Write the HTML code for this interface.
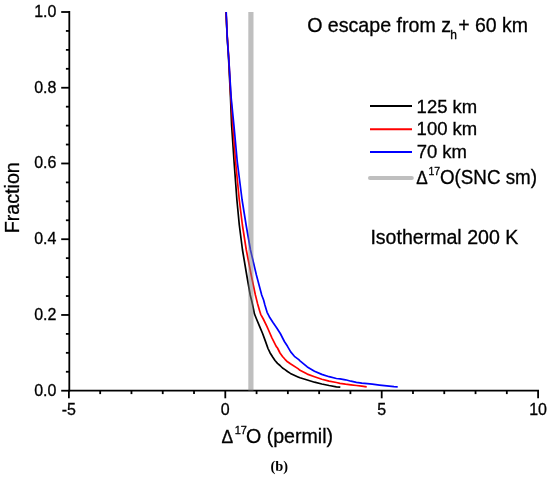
<!DOCTYPE html>
<html><head><meta charset="utf-8"><style>
html,body{margin:0;padding:0;background:#fff;}
svg{display:block;}
.s{font-family:"Liberation Sans",Arial,sans-serif;fill:#000;stroke:#000;stroke-width:0.3px;}
.cap{font-family:"Liberation Serif","Times New Roman",serif;font-weight:bold;fill:#000;}
</style></head><body>
<svg width="550" height="479" viewBox="0 0 550 479">
<line x1="69.3" y1="11.1" x2="69.3" y2="391.6" stroke="#000" stroke-width="1.8"/>
<line x1="68.4" y1="390.7" x2="539.0" y2="390.7" stroke="#000" stroke-width="1.8"/>
<line x1="61.2" y1="390.70" x2="69.3" y2="390.70" stroke="#000" stroke-width="1.8"/>
<line x1="65.9" y1="371.76" x2="69.3" y2="371.76" stroke="#000" stroke-width="1.8"/>
<line x1="65.9" y1="352.83" x2="69.3" y2="352.83" stroke="#000" stroke-width="1.8"/>
<line x1="65.9" y1="333.89" x2="69.3" y2="333.89" stroke="#000" stroke-width="1.8"/>
<line x1="61.2" y1="314.96" x2="69.3" y2="314.96" stroke="#000" stroke-width="1.8"/>
<line x1="65.9" y1="296.02" x2="69.3" y2="296.02" stroke="#000" stroke-width="1.8"/>
<line x1="65.9" y1="277.09" x2="69.3" y2="277.09" stroke="#000" stroke-width="1.8"/>
<line x1="65.9" y1="258.15" x2="69.3" y2="258.15" stroke="#000" stroke-width="1.8"/>
<line x1="61.2" y1="239.22" x2="69.3" y2="239.22" stroke="#000" stroke-width="1.8"/>
<line x1="65.9" y1="220.28" x2="69.3" y2="220.28" stroke="#000" stroke-width="1.8"/>
<line x1="65.9" y1="201.35" x2="69.3" y2="201.35" stroke="#000" stroke-width="1.8"/>
<line x1="65.9" y1="182.41" x2="69.3" y2="182.41" stroke="#000" stroke-width="1.8"/>
<line x1="61.2" y1="163.48" x2="69.3" y2="163.48" stroke="#000" stroke-width="1.8"/>
<line x1="65.9" y1="144.54" x2="69.3" y2="144.54" stroke="#000" stroke-width="1.8"/>
<line x1="65.9" y1="125.61" x2="69.3" y2="125.61" stroke="#000" stroke-width="1.8"/>
<line x1="65.9" y1="106.68" x2="69.3" y2="106.68" stroke="#000" stroke-width="1.8"/>
<line x1="61.2" y1="87.74" x2="69.3" y2="87.74" stroke="#000" stroke-width="1.8"/>
<line x1="65.9" y1="68.80" x2="69.3" y2="68.80" stroke="#000" stroke-width="1.8"/>
<line x1="65.9" y1="49.87" x2="69.3" y2="49.87" stroke="#000" stroke-width="1.8"/>
<line x1="65.9" y1="30.94" x2="69.3" y2="30.94" stroke="#000" stroke-width="1.8"/>
<line x1="61.2" y1="12.00" x2="69.3" y2="12.00" stroke="#000" stroke-width="1.8"/>
<line x1="68.90" y1="390.7" x2="68.90" y2="398.3" stroke="#000" stroke-width="1.8"/>
<line x1="100.18" y1="390.7" x2="100.18" y2="394.1" stroke="#000" stroke-width="1.8"/>
<line x1="131.46" y1="390.7" x2="131.46" y2="394.1" stroke="#000" stroke-width="1.8"/>
<line x1="162.74" y1="390.7" x2="162.74" y2="394.1" stroke="#000" stroke-width="1.8"/>
<line x1="194.02" y1="390.7" x2="194.02" y2="394.1" stroke="#000" stroke-width="1.8"/>
<line x1="225.30" y1="390.7" x2="225.30" y2="398.3" stroke="#000" stroke-width="1.8"/>
<line x1="256.58" y1="390.7" x2="256.58" y2="394.1" stroke="#000" stroke-width="1.8"/>
<line x1="287.86" y1="390.7" x2="287.86" y2="394.1" stroke="#000" stroke-width="1.8"/>
<line x1="319.14" y1="390.7" x2="319.14" y2="394.1" stroke="#000" stroke-width="1.8"/>
<line x1="350.42" y1="390.7" x2="350.42" y2="394.1" stroke="#000" stroke-width="1.8"/>
<line x1="381.70" y1="390.7" x2="381.70" y2="398.3" stroke="#000" stroke-width="1.8"/>
<line x1="412.98" y1="390.7" x2="412.98" y2="394.1" stroke="#000" stroke-width="1.8"/>
<line x1="444.26" y1="390.7" x2="444.26" y2="394.1" stroke="#000" stroke-width="1.8"/>
<line x1="475.54" y1="390.7" x2="475.54" y2="394.1" stroke="#000" stroke-width="1.8"/>
<line x1="506.82" y1="390.7" x2="506.82" y2="394.1" stroke="#000" stroke-width="1.8"/>
<line x1="538.10" y1="390.7" x2="538.10" y2="398.3" stroke="#000" stroke-width="1.8"/>
<text transform="translate(56.40,395.50) scale(1,1.04)" class="s" font-size="16" text-anchor="end">0.0</text>
<text transform="translate(56.40,319.76) scale(1,1.04)" class="s" font-size="16" text-anchor="end">0.2</text>
<text transform="translate(56.40,244.02) scale(1,1.04)" class="s" font-size="16" text-anchor="end">0.4</text>
<text transform="translate(56.40,168.28) scale(1,1.04)" class="s" font-size="16" text-anchor="end">0.6</text>
<text transform="translate(56.40,92.54) scale(1,1.04)" class="s" font-size="16" text-anchor="end">0.8</text>
<text transform="translate(56.40,16.80) scale(1,1.04)" class="s" font-size="16" text-anchor="end">1.0</text>
<text transform="translate(68.90,415.00) scale(1,0.98)" class="s" font-size="16" text-anchor="middle">-5</text>
<text transform="translate(225.30,415.00) scale(1,0.98)" class="s" font-size="16" text-anchor="middle">0</text>
<text transform="translate(381.70,415.00) scale(1,0.98)" class="s" font-size="16" text-anchor="middle">5</text>
<text transform="translate(538.10,415.00) scale(1,0.98)" class="s" font-size="16" text-anchor="middle">10</text>
<polyline points="226.0,12.0 227.2,37.0 228.5,57.0 230.4,95.0 231.6,125.0 234.1,162.0 236.9,200.0 239.3,225.0 242.5,250.0 246.7,275.0 250.2,295.0 251.8,301.3 253.4,308.6 254.4,313.8 256.5,319.0 259.6,326.3 262.6,333.5 265.3,340.9 268.0,348.5 270.0,352.7 272.5,356.8 275.0,360.5 277.5,363.4 280.0,365.5 282.5,368.0 285.0,369.6 287.5,371.5 290.4,373.4 298.0,376.9 300.0,377.8 307.3,380.0 314.5,382.2 321.8,384.0 329.1,385.5 336.4,386.8 340.3,387.2" fill="none" stroke="#000" stroke-width="1.7" stroke-linejoin="round"/>
<polyline points="226.0,12.0 227.3,37.0 228.7,57.0 230.7,95.0 232.8,125.0 235.6,162.0 239.3,200.0 242.4,225.0 246.3,250.0 251.2,275.0 255.4,295.0 257.5,303.4 259.6,310.7 260.7,314.3 263.3,319.0 266.9,326.3 268.5,330.0 271.8,337.6 276.2,346.4 277.5,348.0 280.0,353.0 282.5,356.5 285.0,359.3 287.5,361.8 290.4,363.8 298.0,368.6 300.0,370.3 307.3,374.1 314.5,376.7 321.8,379.2 329.1,381.1 336.4,382.5 340.0,383.3 345.5,384.2 351.0,384.9 356.4,385.5 361.8,386.2 366.7,386.8" fill="none" stroke="#f00" stroke-width="1.7" stroke-linejoin="round"/>
<polyline points="226.2,12.0 227.2,37.0 229.1,64.0 231.2,98.0 233.9,125.0 237.3,162.0 242.1,200.0 246.1,225.0 250.5,250.0 256.4,275.0 261.7,295.0 263.6,300.0 264.9,305.0 267.1,312.3 269.3,316.7 273.0,322.5 276.6,327.7 280.3,333.5 282.6,338.0 284.4,341.5 287.5,346.3 290.7,351.9 294.4,356.3 298.8,359.7 300.0,360.8 307.3,366.9 314.5,371.2 321.8,374.4 329.1,376.7 336.4,378.5 340.0,378.9 345.5,379.8 351.0,381.2 356.4,382.3 361.8,383.2 367.3,383.7 372.3,384.2 379.5,385.1 386.8,385.9 394.0,386.7 397.7,386.9" fill="none" stroke="#00f" stroke-width="1.7" stroke-linejoin="round"/>
<line x1="250.9" y1="12.0" x2="250.9" y2="390.7" stroke="#808080" stroke-opacity="0.5" stroke-width="5.2"/>
<line x1="370" y1="106" x2="412" y2="106" stroke="#000" stroke-width="1.9"/>
<line x1="370" y1="129.2" x2="412" y2="129.2" stroke="#f00" stroke-width="1.9"/>
<line x1="370" y1="152" x2="412" y2="152" stroke="#00f" stroke-width="1.9"/>
<line x1="370" y1="178" x2="411.8" y2="178" stroke="#bfbfbf" stroke-width="4.1" stroke-linecap="round"/>
<text transform="translate(416.60,113.40) scale(1,1.04)" class="s" font-size="18.5">125 km</text>
<text transform="translate(416.60,135.40) scale(1,1.04)" class="s" font-size="18.5">100 km</text>
<text transform="translate(416.65,157.80) scale(1,1.04)" class="s" font-size="18.5">70 km</text>
<text transform="translate(416.20,183.80) scale(1,1.04)" class="s"><tspan x="0.00" y="0.00" font-size="17.2">Δ</tspan><tspan x="12.20" y="-8.85" font-size="10.5">17</tspan><tspan x="23.80" y="-0.10" font-size="18.8">O(SNC sm)</tspan></text>
<text transform="translate(307.17,31.50) scale(1,1.04)" class="s"><tspan x="0.00" y="0.00" font-size="19.62">O escape from z</tspan><tspan x="143.20" y="6.73" font-size="12">h</tspan><tspan x="151.08" y="0.10" font-size="19.5">+ 60 km</tspan></text>
<text transform="translate(370.40,243.50) scale(1,1.04)" class="s" font-size="19.57">Isothermal 200 K</text>
<text transform="translate(221.40,443.20) scale(1,1.04)" class="s"><tspan x="0.00" y="0.00" font-size="17.5">Δ</tspan><tspan x="13.26" y="-9.23" font-size="11">17</tspan><tspan x="24.57" y="0.00" font-size="19.6">O (permil)</tspan></text>
<text transform="translate(19.1,233.3) rotate(-90) scale(1,1.04)" class="s" font-size="19.7">Fraction</text>
<text transform="translate(270.57,471.30) scale(1,1)" class="cap" font-size="14.4">(b)</text>
</svg>
</body></html>
